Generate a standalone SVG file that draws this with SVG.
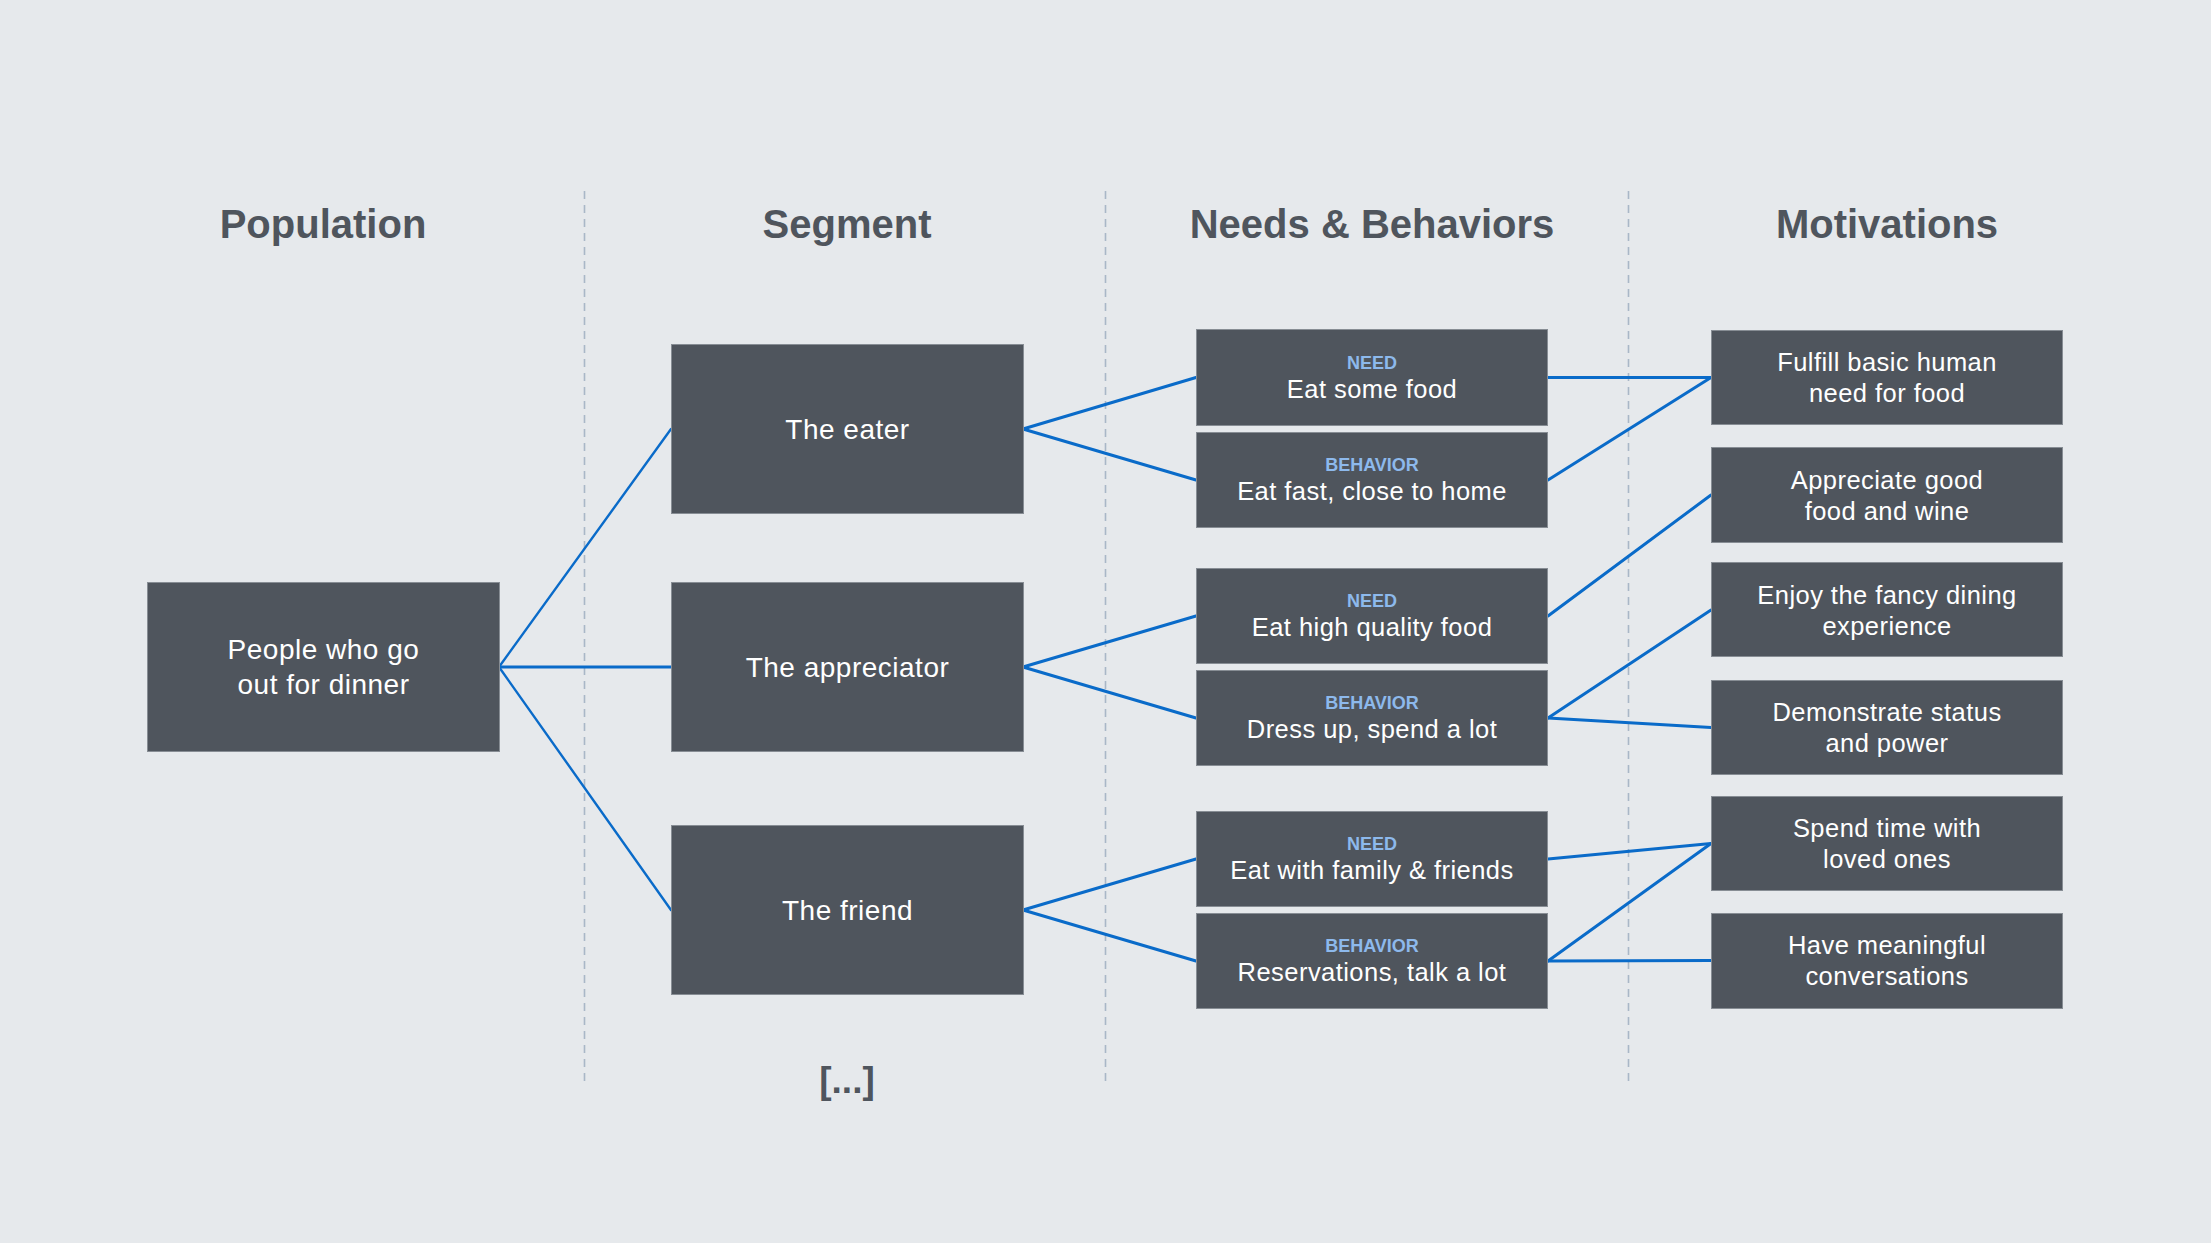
<svg xmlns="http://www.w3.org/2000/svg" width="2211" height="1243" viewBox="0 0 2211 1243">
<style>
.bg{fill:#e6e9ec}
.title{font-family:"Liberation Sans",Arial,sans-serif;font-weight:bold;font-size:40px;fill:#4f555d;text-anchor:middle}
.div{stroke:#a9b7c7;stroke-width:1.6;stroke-dasharray:8 6;fill:none}
.box{fill:#4f555d;stroke:#878d94;stroke-width:1}
.big{font-family:"Liberation Sans",Arial,sans-serif;font-size:28px;letter-spacing:0.5px;fill:#ffffff;text-anchor:middle}
.sm{font-family:"Liberation Sans",Arial,sans-serif;font-size:25.5px;letter-spacing:0.45px;fill:#ffffff;text-anchor:middle}
.lbl{font-family:"Liberation Sans",Arial,sans-serif;font-size:18px;font-weight:bold;fill:#8db9ec;text-anchor:middle}
.con{stroke:#0a6bc9;stroke-width:3;fill:none;stroke-linecap:round}
.con.thin{stroke-width:2.4}
.more{font-family:"Liberation Sans",Arial,sans-serif;font-weight:bold;font-size:37px;fill:#4f555d;text-anchor:middle}
</style>
<rect class="bg" x="0" y="0" width="2211" height="1243"/>

<g id="headers">
<text class="title" x="323" y="238">Population</text>
<text class="title" x="847" y="238">Segment</text>
<text class="title" x="1372" y="238">Needs &amp; Behaviors</text>
<text class="title" x="1887" y="238">Motivations</text>
</g>

<g id="dividers">
<line class="div" x1="584.5" y1="191" x2="584.5" y2="1083"/>
<line class="div" x1="1105.5" y1="191" x2="1105.5" y2="1083"/>
<line class="div" x1="1628.5" y1="191" x2="1628.5" y2="1083"/>
</g>

<g id="connectors">
<line class="con thin" x1="499" y1="667" x2="671" y2="429"/>
<line class="con" x1="499" y1="667" x2="671" y2="667"/>
<line class="con thin" x1="499" y1="667" x2="671" y2="910"/>
<line class="con" x1="1023" y1="429" x2="1196" y2="377.5"/>
<line class="con" x1="1023" y1="429" x2="1196" y2="480"/>
<line class="con" x1="1023" y1="667" x2="1196" y2="616"/>
<line class="con" x1="1023" y1="667" x2="1196" y2="718"/>
<line class="con" x1="1023" y1="910" x2="1196" y2="859"/>
<line class="con" x1="1023" y1="910" x2="1196" y2="961"/>
<line class="con" x1="1548" y1="377.5" x2="1711" y2="377.5"/>
<line class="con" x1="1548" y1="480" x2="1711" y2="377.5"/>
<line class="con" x1="1548" y1="616" x2="1711" y2="495"/>
<line class="con" x1="1548" y1="718" x2="1711" y2="610"/>
<line class="con" x1="1548" y1="718" x2="1711" y2="727.5"/>
<line class="con" x1="1548" y1="859" x2="1711" y2="843.5"/>
<line class="con" x1="1548" y1="961" x2="1711" y2="843.5"/>
<line class="con" x1="1548" y1="961" x2="1711" y2="960.5"/>
</g>

<g id="population">
<rect class="box" x="147.5" y="582.5" width="352" height="169"/>
<text class="big" x="323.5" y="659">People who go</text>
<text class="big" x="323.5" y="694">out for dinner</text>
</g>

<g id="seg-eater">
<rect class="box" x="671.5" y="344.5" width="352" height="169"/>
<text class="big" x="847.5" y="439">The eater</text>
</g>
<g id="seg-appreciator">
<rect class="box" x="671.5" y="582.5" width="352" height="169"/>
<text class="big" x="847.5" y="677">The appreciator</text>
</g>
<g id="seg-friend">
<rect class="box" x="671.5" y="825.5" width="352" height="169"/>
<text class="big" x="847.5" y="920">The friend</text>
</g>

<g id="need-1">
<rect class="box" x="1196.5" y="329.5" width="351" height="96"/>
<text class="lbl" x="1372" y="369">NEED</text>
<text class="sm" x="1372" y="398">Eat some food</text>
</g>
<g id="behavior-1">
<rect class="box" x="1196.5" y="432.5" width="351" height="95"/>
<text class="lbl" x="1372" y="471">BEHAVIOR</text>
<text class="sm" x="1372" y="500">Eat fast, close to home</text>
</g>
<g id="need-2">
<rect class="box" x="1196.5" y="568.5" width="351" height="95"/>
<text class="lbl" x="1372" y="607">NEED</text>
<text class="sm" x="1372" y="636">Eat high quality food</text>
</g>
<g id="behavior-2">
<rect class="box" x="1196.5" y="670.5" width="351" height="95"/>
<text class="lbl" x="1372" y="709">BEHAVIOR</text>
<text class="sm" x="1372" y="738">Dress up, spend a lot</text>
</g>
<g id="need-3">
<rect class="box" x="1196.5" y="811.5" width="351" height="95"/>
<text class="lbl" x="1372" y="850">NEED</text>
<text class="sm" x="1372" y="879">Eat with family &amp; friends</text>
</g>
<g id="behavior-3">
<rect class="box" x="1196.5" y="913.5" width="351" height="95"/>
<text class="lbl" x="1372" y="952">BEHAVIOR</text>
<text class="sm" x="1372" y="981">Reservations, talk a lot</text>
</g>

<g id="mot-1">
<rect class="box" x="1711.5" y="330.5" width="351" height="94"/>
<text class="sm" x="1887" y="371">Fulfill basic human</text>
<text class="sm" x="1887" y="402">need for food</text>
</g>
<g id="mot-2">
<rect class="box" x="1711.5" y="447.5" width="351" height="95"/>
<text class="sm" x="1887" y="488.5">Appreciate good</text>
<text class="sm" x="1887" y="519.5">food and wine</text>
</g>
<g id="mot-3">
<rect class="box" x="1711.5" y="562.5" width="351" height="94"/>
<text class="sm" x="1887" y="603.5">Enjoy the fancy dining</text>
<text class="sm" x="1887" y="634.5">experience</text>
</g>
<g id="mot-4">
<rect class="box" x="1711.5" y="680.5" width="351" height="94"/>
<text class="sm" x="1887" y="721">Demonstrate status</text>
<text class="sm" x="1887" y="752">and power</text>
</g>
<g id="mot-5">
<rect class="box" x="1711.5" y="796.5" width="351" height="94"/>
<text class="sm" x="1887" y="837">Spend time with</text>
<text class="sm" x="1887" y="868">loved ones</text>
</g>
<g id="mot-6">
<rect class="box" x="1711.5" y="913.5" width="351" height="95"/>
<text class="sm" x="1887" y="954">Have meaningful</text>
<text class="sm" x="1887" y="985">conversations</text>
</g>

<g id="more">
<text class="more" x="847" y="1093">[...]</text>
</g>
</svg>
